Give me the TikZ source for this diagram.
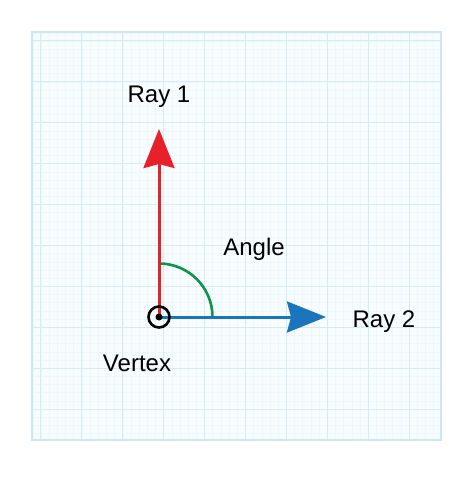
\documentclass[tikz,border=0pt]{standalone}
\usepackage{fontspec}
\setmainfont{Liberation Sans}
\usetikzlibrary{arrows.meta}
\definecolor{gridfill}{HTML}{F7FCFE}
\definecolor{gridmajor}{HTML}{D6EBF3}
\definecolor{gridminor}{HTML}{EEF7FB}
\definecolor{frameblue}{HTML}{D0E6F0}
\definecolor{rayred}{HTML}{E8202A}
\definecolor{rayblue}{HTML}{1B75BC}
\definecolor{anglegreen}{HTML}{0E9447}
\tikzset{
  lbl/.style={font=\fontsize{24}{28}\selectfont, text=black, inner sep=0pt, anchor=base},
  rayline/.style={line width=3pt, -{Stealth[length=39pt, width=31pt, inset=4pt]}},
}
\begin{document}
\begin{tikzpicture}[x=1pt,y=-1pt]
\useasboundingbox (0,0) rectangle (474,489);
\fill[white] (0,0) rectangle (474,489);
% grid
\fill[gridfill] (32,32) rectangle (441,440);
\draw[gridminor, line width=0.4pt, step=8.18pt] (32,32) grid (441,440);
\draw[gridmajor, line width=1pt, step=40.9pt] (32,32) grid (441,440);
\draw[frameblue, line width=2pt] (32,32) rectangle (441,440);
% points
\coordinate (V) at (159,317);
\coordinate (T1) at (159,129);
\coordinate (T2) at (326,317);
% angle arc
\draw[anglegreen, line width=2.6pt] (159,263.5) arc[start angle=-90, end angle=0, radius=53.5];
% rays
\draw[rayline, rayblue] (V) -- (T2);
\draw[rayline, rayred] (V) -- (T1);
% vertex
\node[circle, draw=black, line width=2.6pt, minimum size=21pt, inner sep=0pt, fill=none] (vertex) at (V) {};
\fill[black] (V) circle (3.5pt);
% labels
\node[lbl] (ray1) at (159,103) {Ray 1};
\node[lbl] (ray2) at (384,327) {Ray 2};
\node[lbl] (angle) at (254,255) {Angle};
\node[lbl] (vtx) at (137,371.5) {Vertex};
\end{tikzpicture}
\end{document}
